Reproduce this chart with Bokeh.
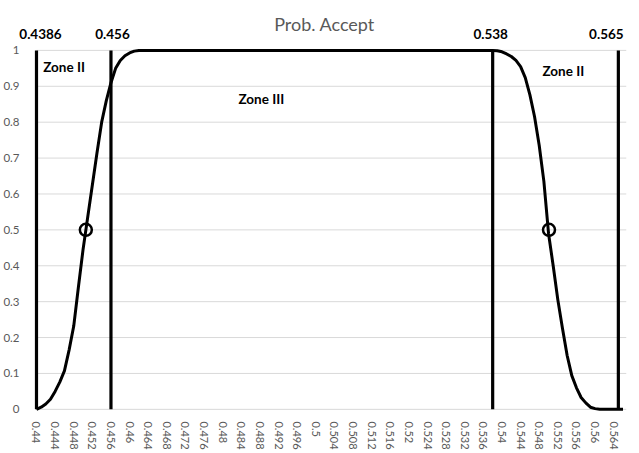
from bokeh.plotting import figure
from bokeh.models import Range1d, FixedTicker, Label
from bokeh.embed import file_html
from bokeh.resources import INLINE

# ---- data ----
# x categories (lot mean), step 0.001 from 0.440 to 0.566
x_start_cat = 0.440
n_cats = 127
prob_accept = [
    0.0, 0.006, 0.015, 0.028, 0.05, 0.076, 0.107, 0.165, 0.232, 0.34,
    0.445, 0.535, 0.625, 0.715, 0.80, 0.86, 0.91, 0.95, 0.972, 0.985,
    0.993, 0.998, 1.0, 1.0, 1.0, 1.0, 1.0, 1.0, 1.0, 1.0,
    1.0, 1.0, 1.0, 1.0, 1.0, 1.0, 1.0, 1.0, 1.0, 1.0,
    1.0, 1.0, 1.0, 1.0, 1.0, 1.0, 1.0, 1.0, 1.0, 1.0,
    1.0, 1.0, 1.0, 1.0, 1.0, 1.0, 1.0, 1.0, 1.0, 1.0,
    1.0, 1.0, 1.0, 1.0, 1.0, 1.0, 1.0, 1.0, 1.0, 1.0,
    1.0, 1.0, 1.0, 1.0, 1.0, 1.0, 1.0, 1.0, 1.0, 1.0,
    1.0, 1.0, 1.0, 1.0, 1.0, 1.0, 1.0, 1.0, 1.0, 1.0,
    1.0, 1.0, 1.0, 1.0, 1.0, 1.0, 1.0, 1.0, 1.0, 0.999,
    0.996, 0.99, 0.983, 0.972, 0.955, 0.924, 0.876, 0.815, 0.735, 0.635,
    0.49, 0.40, 0.305, 0.225, 0.15, 0.094, 0.06, 0.033, 0.018, 0.006,
    0.002, 0.0, 0.0, 0.0, 0.0, 0.0, 0.0,
]
x_values = [round(x_start_cat + 0.001 * i, 3) for i in range(n_cats)]

half_x = [0.4506, 0.5501]
half_y = [0.5, 0.5]

zone_bound_labels = ["0.4386", "0.456", "0.538", "0.565"]
zone_bounds = [float(s) for s in zone_bound_labels]

zone_names = ["Zone II", "Zone III", "Zone II"]

x_tick_labels = ["0.44", "0.444", "0.448", "0.452", "0.456", "0.46", "0.464",
                 "0.468", "0.472", "0.476", "0.48", "0.484", "0.488", "0.492",
                 "0.496", "0.5", "0.504", "0.508", "0.512", "0.516", "0.52",
                 "0.524", "0.528", "0.532", "0.536", "0.54", "0.544", "0.548",
                 "0.552", "0.556", "0.56", "0.564"]
y_tick_labels = ["0", "0.1", "0.2", "0.3", "0.4", "0.5", "0.6", "0.7", "0.8",
                 "0.9", "1"]

title_text = "Prob. Accept"

# ---- figure ----
FONT = "Lato"
GREY = "#595959"
GRID = "#d9d9d9"

X0, X1 = 0.43592, 0.56675   # visible x extent (frame reaches left of first category)
p = figure(frame_width=609, frame_height=397, output_backend="svg",
           toolbar_location=None,
           x_range=Range1d(X0, X1), y_range=Range1d(-0.006, 1.100),
           min_border_left=8, min_border_right=6, min_border_top=14,
           min_border_bottom=34)
p.outline_line_color = None
p.background_fill_color = "white"
p.border_fill_color = "white"

x_ticks = [float(s) for s in x_tick_labels]
y_ticks = [float(s) for s in y_tick_labels]

p.xaxis.ticker = FixedTicker(ticks=x_ticks)
p.xaxis.major_label_overrides = {t: s for t, s in zip(x_ticks, x_tick_labels)}
p.xaxis.major_label_orientation = "vertical"
p.xaxis.axis_line_color = None
p.xaxis.major_tick_line_color = None
p.xaxis.minor_tick_line_color = None
p.xaxis.major_label_standoff = 4
p.xaxis.major_label_text_font = FONT
p.xaxis.major_label_text_font_size = "11px"
p.xaxis.major_label_text_color = GREY

p.yaxis.ticker = FixedTicker(ticks=y_ticks)
p.yaxis.major_label_overrides = {t: s for t, s in zip(y_ticks, y_tick_labels)}
p.yaxis.axis_line_color = None
p.yaxis.major_tick_line_color = None
p.yaxis.minor_tick_line_color = None
p.yaxis.major_label_standoff = -8
p.yaxis.major_label_text_font = FONT
p.yaxis.major_label_text_font_size = "11.5px"
p.yaxis.major_label_text_color = GREY

# horizontal gridlines across the category span only
p.xgrid.grid_line_color = None
p.ygrid.grid_line_color = None
p.segment(x0=[x_values[0]] * len(y_ticks), y0=y_ticks,
          x1=[X1] * len(y_ticks), y1=y_ticks,
          line_color=GRID, line_width=1)

# title
p.add_layout(Label(x=0.50187, y=1.074, text=title_text, text_align="center",
                   text_baseline="middle", text_font=FONT,
                   text_font_size="18px", text_color=GREY))

# vertical zone boundary lines (first bound sits before the first category,
# drawn at the first category like the category axis does)
line_x = [max(b, x_values[0]) for b in zone_bounds]
p.segment(x0=line_x, y0=[0] * len(line_x), x1=line_x, y1=[1] * len(line_x),
          line_color="black", line_width=3.2)

# OC curve
p.line(x_values, prob_accept, line_color="black", line_width=3,
       line_join="round")

# 50% points
p.scatter(half_x, half_y, marker="circle", size=12, fill_color=None,
          line_color="black", line_width=2.5)

# boundary labels above the lines
offsets = [4, 1.5, -2, -12]
for lx, txt, off in zip(line_x, zone_bound_labels, offsets):
    p.add_layout(Label(x=lx, y=1.046, text=txt, text_align="center",
                       text_baseline="middle", x_offset=off,
                       text_font=FONT, text_font_size="13.5px",
                       text_font_style="bold", text_color="black"))

# zone names
zone_pos = [(0.44144, 0.955), (0.48339, 0.864), (0.5487, 0.9415)]
for (zx, zy), name in zip(zone_pos, zone_names):
    p.add_layout(Label(x=zx, y=zy, text=name, text_align="left",
                       text_baseline="middle", text_font=FONT,
                       text_font_size="13.5px", text_font_style="bold",
                       text_color="black"))

open("out.html", "w").write(file_html(p, INLINE))
